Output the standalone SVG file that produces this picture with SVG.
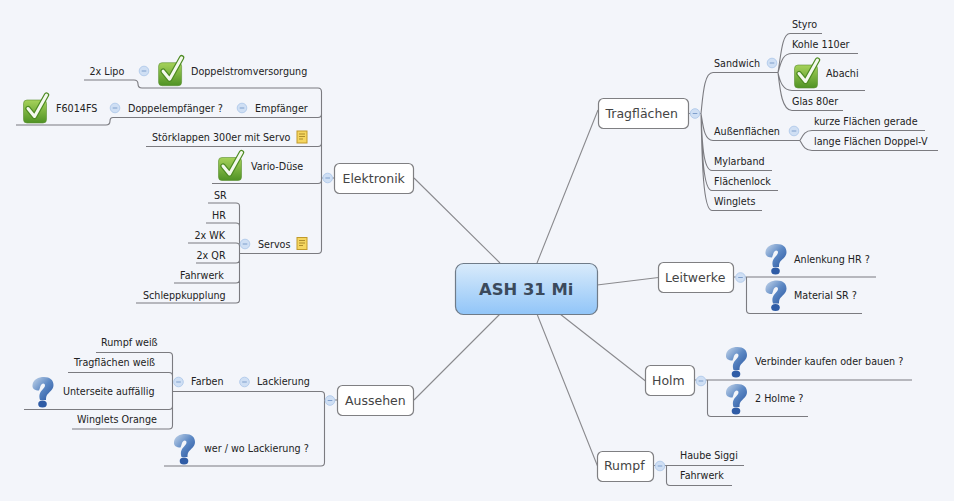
<svg xmlns="http://www.w3.org/2000/svg" width="954" height="501" viewBox="0 0 954 501">
<style>
text{font-family:"DejaVu Sans","Liberation Sans",sans-serif;font-size:9.6px;fill:#222}
.m{font-size:12.5px;fill:#444}
.c{font-size:16.4px;font-weight:bold;fill:#3b4a5c}
.l{fill:none;stroke:#7b7b80;stroke-width:1.1}
.t{fill:none;stroke:#8a8a8e;stroke-width:1.1}
.b{fill:#fff;stroke:#7f7f82;stroke-width:1.2}
.k{fill:#cfdff4;stroke:#b5cdec;stroke-width:1}
.d{stroke:#7f9fcc;stroke-width:1;fill:none}
</style>
<defs>
<linearGradient id="cg" x1="0" y1="0" x2="0" y2="1"><stop offset="0" stop-color="#d9ebfb"/><stop offset="1" stop-color="#91c5f8"/></linearGradient>
<linearGradient id="gg" x1="0" y1="0" x2="0" y2="1"><stop offset="0" stop-color="#a6d25a"/><stop offset="1" stop-color="#4f9224"/></linearGradient>
<linearGradient id="qg" x1="0" y1="0" x2="1" y2="1"><stop offset="0" stop-color="#c5d6ea"/><stop offset=".5" stop-color="#5c88c4"/><stop offset="1" stop-color="#2a56a0"/></linearGradient>
<g id="ck"><rect x="0" y="0" width="23" height="23" rx="3.5" fill="url(#gg)" stroke="#5a8f30" stroke-width=".6"/><path d="M4.5 8.5L11 16.5L23 -5" fill="none" stroke="#4d8a22" stroke-width="5.4" stroke-linecap="round" stroke-linejoin="round"/><path d="M4.5 8.5L11 16.5L23 -5" fill="none" stroke="#f4f9ee" stroke-width="3" stroke-linecap="round" stroke-linejoin="round"/></g>
<g id="qu"><path d="M.5 8C1 2.500 6.500 0 12 0C18 0 21.500 3 21.500 8C21.500 13 17 15 15 18C14 20 14 21 14 23L8 23C6.500 18 8 15 11 12C13 10 13.500 8 12.500 7C11 5.500 9.500 7 8.500 9C8 11 7.500 12 7 13.500C3 13.500 0 12 .5 8Z" fill="url(#qg)"/><ellipse cx="10.500" cy="27" rx="4.300" ry="3.500" fill="#2f5ca6"/></g>
<g id="no"><rect x=".5" y=".5" width="10" height="12" fill="#f5d660" stroke="#c19a2a"/><path d="M2.500 3.500H8.500M2.500 6H8.500M2.500 8.500H6.500" stroke="#9a7a20" stroke-width=".8"/></g>
<g id="mi"><circle r="4.800" class="k"/><path d="M-2.300 0H2.300" class="d"/></g>
</defs>
<rect width="954" height="501" fill="#f3f5fa"/>
<g id="connectors">
<path class="t" d="M537 263L598 110M500 263L414 178M597 285L658.500 277.500M560 314L645.500 381M537 314L597.500 466M500 314L414 400"/>
<path class="l" d="M84 80H134Q138 80 138 84Q138 88 142 88H318Q321.500 88 321.500 92V250Q321.500 253.500 318 253.500H240M321.500 114Q321.500 117.500 318 117.500H113Q110 117.500 110 121Q110 125 106 125H16M321.500 143Q321.500 146.500 318 146.500H146M321.500 180Q321.500 183.500 318 183.500H212M321.500 178H334.500"/>
<path class="l" d="M208 203H236Q239.500 203 239.500 206V300Q239.500 303 236 303H136M206 223H236Q239.500 223 239.500 226M188 243H236Q239.500 243 239.500 246M196 263H236Q239.500 263 239.500 260M174 283H236Q239.500 283 239.500 280"/>
<path class="l" d="M173 391.500H321Q324.500 391.500 324.500 395V462.500Q324.500 466 321 466H164M324.500 400H337.500"/>
<path class="l" d="M96 352.500H169Q172.500 352.500 172.500 356V425.500Q172.500 429 169 429H72M68 372.500H169Q172.500 372.500 172.500 376M24 409.500H169Q172.500 409.500 172.500 406"/>
<path class="l" d="M688 113.500H701M701 113.500C703 95 704 72.500 713 72.500H778M701 113.500C703 125 704 140.500 713 140.500H800M701 113.500C702 140 703 170.500 712 170.500H772M701 113.500C702 150 703 190.500 712 190.500H778M701 113.500C702 160 703 210.500 712 210.500H762"/>
<path class="l" d="M778 72.500C781 55 782 33.500 790 33.500H822M778 72.500C781 63 782 53.500 792 53.500H858M778 72.500C780 82 783 90.500 792 90.500H865M778 72.500C780 90 782 110.500 792 110.500H843"/>
<path class="l" d="M800 140.500C803 135 805 130.500 812 130.500H925M800 140.500C803 146 805 150.500 812 150.500H938"/>
<path class="l" d="M733.500 277H876M746.500 277V310Q746.500 313.500 750 313.500H862"/>
<path class="l" d="M694.500 380H912M707.500 380V413Q707.500 416.500 711 416.500H808"/>
<path class="l" d="M653.500 465.500H744M666.500 465.500V482Q666.500 485.500 670 485.500H732"/>
</g>
<g id="n-center"><rect x="455.500" y="263.500" width="142" height="51" rx="8" fill="url(#cg)" stroke="#6f7b88" stroke-width="1.200"/><text class="c" x="479" y="295">ASH 31 Mi</text></g>
<g id="n-elektronik"><rect class="b" x="334.500" y="163.500" width="79" height="30" rx="5"/><text class="m" x="342.500" y="183">Elektronik</text><use href="#mi" x="327.700" y="178"/></g>
<g id="n-lipo"><text x="89.500" y="75">2x Lipo</text></g>
<g id="n-doppelstrom"><use href="#mi" x="144" y="71"/><use href="#ck" x="158.600" y="62.700"/><text x="191" y="75">Doppelstromversorgung</text></g>
<g id="n-f6014"><use href="#ck" x="23.500" y="100"/><text x="56" y="112">F6014FS</text></g>
<g id="n-doppelempf"><use href="#mi" x="115" y="108"/><text x="128" y="112">Doppelempfänger ?</text></g>
<g id="n-empf"><use href="#mi" x="242" y="108"/><text x="255" y="112">Empfänger</text></g>
<g id="n-stoer"><text x="152" y="141">Störklappen 300er mit Servo</text><use href="#no" x="296.500" y="130.500"/></g>
<g id="n-vario"><use href="#ck" x="218.500" y="157.500"/><text x="251" y="170">Vario-Düse</text></g>
<g id="n-servos"><use href="#mi" x="245" y="244"/><text x="258" y="248">Servos</text><use href="#no" x="296.500" y="237"/></g>
<g id="n-sr"><text x="214" y="199">SR</text></g>
<g id="n-hr"><text x="212" y="219">HR</text></g>
<g id="n-wk"><text x="194.500" y="239">2x WK</text></g>
<g id="n-qr"><text x="196.500" y="259">2x QR</text></g>
<g id="n-fahrwerk1"><text x="180" y="279">Fahrwerk</text></g>
<g id="n-schlepp"><text x="143" y="299">Schleppkupplung</text></g>
<g id="n-aussehen"><rect class="b" x="337.500" y="385.500" width="76" height="30" rx="5"/><text class="m" x="345" y="404.500">Aussehen</text><use href="#mi" x="330" y="400.500"/></g>
<g id="n-lack"><use href="#mi" x="244.500" y="382"/><text x="257" y="385">Lackierung</text></g>
<g id="n-farben"><use href="#mi" x="178.500" y="382"/><text x="191" y="385">Farben</text></g>
<g id="n-rweiss"><text x="101" y="346">Rumpf weiß</text></g>
<g id="n-tweiss"><text x="74" y="366">Tragflächen weiß</text></g>
<g id="n-unter"><use href="#qu" x="32" y="377"/><text x="63" y="395">Unterseite auffällig</text></g>
<g id="n-wo"><text x="77" y="423">Winglets Orange</text></g>
<g id="n-wer"><use href="#qu" x="173.500" y="434"/><text x="204" y="452">wer / wo Lackierung ?</text></g>
<g id="n-trag"><rect class="b" x="598.500" y="98.500" width="90" height="30" rx="5"/><text class="m" x="605.500" y="118">Tragflächen</text><use href="#mi" x="695" y="113.500"/></g>
<g id="n-sandwich"><text x="714" y="67">Sandwich</text><use href="#mi" x="772" y="63"/></g>
<g id="n-styro"><text x="792" y="28">Styro</text></g>
<g id="n-kohle"><text x="792" y="48">Kohle 110er</text></g>
<g id="n-abachi"><use href="#ck" x="794.500" y="65"/><text x="826" y="77">Abachi</text></g>
<g id="n-glas"><text x="792" y="105">Glas 80er</text></g>
<g id="n-aussen"><text x="714" y="135">Außenflächen</text><use href="#mi" x="794" y="131"/></g>
<g id="n-kurze"><text x="814" y="125">kurze Flächen gerade</text></g>
<g id="n-lange"><text x="814" y="145">lange Flächen Doppel-V</text></g>
<g id="n-mylar"><text x="714" y="165">Mylarband</text></g>
<g id="n-flock"><text x="714" y="185">Flächenlock</text></g>
<g id="n-wing"><text x="714" y="205">Winglets</text></g>
<g id="n-leit"><rect class="b" x="658.500" y="262.500" width="75" height="30" rx="5"/><text class="m" x="665" y="282">Leitwerke</text><use href="#mi" x="740.500" y="277.500"/></g>
<g id="n-anl"><use href="#qu" x="765" y="244"/><text x="794" y="263">Anlenkung HR ?</text></g>
<g id="n-mat"><use href="#qu" x="765" y="280.500"/><text x="794" y="299">Material SR ?</text></g>
<g id="n-holm"><rect class="b" x="645.500" y="365.500" width="49" height="30" rx="5"/><text class="m" x="652" y="385">Holm</text><use href="#mi" x="701" y="381"/></g>
<g id="n-verb"><use href="#qu" x="725.500" y="347"/><text x="755" y="365">Verbinder kaufen oder bauen ?</text></g>
<g id="n-2h"><use href="#qu" x="725.500" y="384"/><text x="755" y="402">2 Holme ?</text></g>
<g id="n-rumpf"><rect class="b" x="597.500" y="451.500" width="56" height="30" rx="5"/><text class="m" x="604" y="470">Rumpf</text><use href="#mi" x="660" y="466"/></g>
<g id="n-haube"><text x="680" y="459">Haube Siggi</text></g>
<g id="n-fahrwerk2"><text x="680" y="479">Fahrwerk</text></g>
</svg>
